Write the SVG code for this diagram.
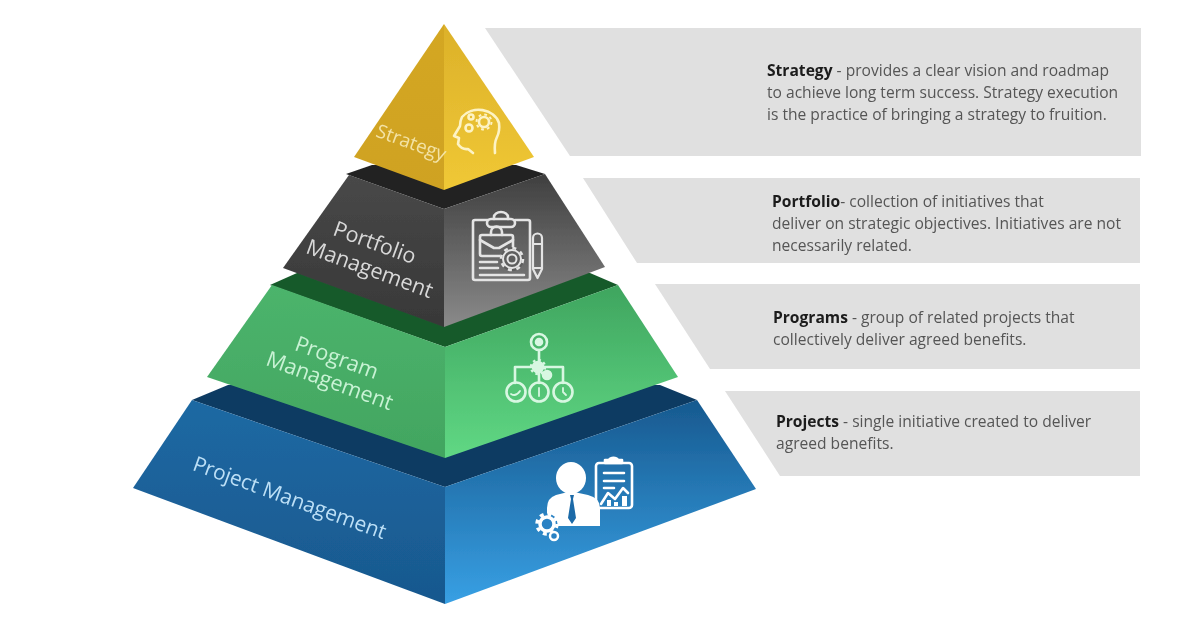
<svg xmlns="http://www.w3.org/2000/svg" width="1200" height="630" viewBox="0 0 1200 630">
<style>
.panel{fill:#e0e0e0}
.d{font-family:"Open Sans","Liberation Sans",sans-serif;font-size:15.6px;fill:#555}
.d tspan{font-weight:700;fill:#1a1a1a}
.l{font-family:"Open Sans","Liberation Sans",sans-serif;text-anchor:middle}
.i{fill:none;stroke-width:2.6;stroke-linecap:round;stroke-linejoin:round}
</style>
<defs>
<filter id="soft" x="0" y="0" width="100%" height="100%"><feGaussianBlur stdDeviation="0.45"/></filter>
<linearGradient id="gR" x1="0" y1="0" x2="0" y2="1"><stop offset="0" stop-color="#dcb12a"/><stop offset="1" stop-color="#f0c835"/></linearGradient>
<linearGradient id="gL" x1="0" y1="0" x2="0" y2="1"><stop offset="0" stop-color="#d4a720"/><stop offset="1" stop-color="#cfa224"/></linearGradient>
<linearGradient id="kR" x1="0" y1="0" x2="0" y2="1"><stop offset="0" stop-color="#3f3f3f"/><stop offset="1" stop-color="#8a8a8a"/></linearGradient>
<linearGradient id="kL" x1="0" y1="0" x2="0" y2="1"><stop offset="0" stop-color="#484848"/><stop offset="1" stop-color="#383838"/></linearGradient>
<linearGradient id="nR" x1="0" y1="0" x2="0" y2="1"><stop offset="0" stop-color="#3fa55f"/><stop offset="1" stop-color="#60d884"/></linearGradient>
<linearGradient id="nL" x1="0" y1="0" x2="0" y2="1"><stop offset="0" stop-color="#4cb46c"/><stop offset="1" stop-color="#42a560"/></linearGradient>
<linearGradient id="bR" x1="0" y1="0" x2="0" y2="1"><stop offset="0" stop-color="#17598f"/><stop offset="1" stop-color="#38a0e4"/></linearGradient>
<linearGradient id="bL" x1="0" y1="0" x2="0" y2="1"><stop offset="0" stop-color="#1e69a3"/><stop offset="1" stop-color="#18588e"/></linearGradient>
</defs>
<rect width="1200" height="630" fill="#fff"/>
<g filter="url(#soft)">
<g id="panel-strategy">
<polygon class="panel" points="485,28 1141,28 1141,156 570,156"/>
<text class="d" x="767" y="76"><tspan>Strategy</tspan> - provides a clear vision and roadmap</text>
<text class="d" x="767" y="98">to achieve long term success. Strategy execution</text>
<text class="d" x="767" y="120">is the practice of bringing a strategy to fruition.</text>
</g>
<g id="panel-portfolio">
<polygon class="panel" points="583,178 1140,178 1140,263 637,263"/>
<text class="d" x="772" y="207"><tspan>Portfolio</tspan>- collection of initiatives that</text>
<text class="d" x="772" y="229">deliver on strategic objectives. Initiatives are not</text>
<text class="d" x="772" y="251">necessarily related.</text>
</g>
<g id="panel-programs">
<polygon class="panel" points="655,284 1140,284 1140,369 710,369"/>
<text class="d" x="773" y="323"><tspan>Programs</tspan> - group of related projects that</text>
<text class="d" x="773" y="345">collectively deliver agreed benefits.</text>
</g>
<g id="panel-projects">
<polygon class="panel" points="725,391 1140,391 1140,476 780,476"/>
<text class="d" x="776" y="427"><tspan>Projects</tspan> - single initiative created to deliver</text>
<text class="d" x="776" y="449">agreed benefits.</text>
</g>

<g id="tier-project">
<polygon points="192,400 228,385 660,385 697,400 445,487" fill="#0c3a62"/>
<polygon points="192,400 445,487 445,604 133,488" fill="url(#bL)"/>
<polygon points="697,400 445,487 445,604 756,489" fill="url(#bR)"/>
<text class="l" x="290" y="505" font-size="21" fill="#bcdff6" transform="rotate(20 290 497)">Project Management</text>
<g id="icon-project">
<g class="i" stroke="#fff">
<rect x="596" y="463" width="36" height="45" rx="3"/>
<path d="M605 463v-3h4a5 4 0 0 1 9 0h4v3z" fill="#fff"/>
<path d="M604 473h20M604 481h20M604 488h10"/>
<path d="M601 504l7-11 7 6 8-11 5 5"/>
</g>
<path d="M607 506v-6h4v6zM614 506v-4h4v4zM622 506v-10h5v10z" fill="#fff"/>
<ellipse cx="571" cy="478" rx="15" ry="16" fill="#fff"/>
<path d="M547 526v-18q0-10 9-13l12-3h6l14 3q12 3 12 13v18z" fill="#fff"/>
<path d="M570 495h4l-1 4 3 19-4 6-4-6 3-19z" fill="#1c6ba8"/>
<circle cx="547" cy="524" r="10.500" fill="#2a82c4"/>
<circle cx="547" cy="524" r="7" fill="none" stroke="#fff" stroke-width="3.500"/>
<circle cx="547" cy="524" r="10" fill="none" stroke="#fff" stroke-width="3.500" stroke-dasharray="3.900 4"/>
<circle cx="554" cy="536" r="4" fill="#2a82c4" stroke="#fff" stroke-width="2.500"/>
</g>
</g>

<g id="tier-program">
<polygon points="270,285 297,273 590,273 618,285 445,347" fill="#195a2c"/>
<polygon points="272,285 445,347 445,458 207,377" fill="url(#nL)"/>
<polygon points="618,285 445,347 445,458 678,377" fill="url(#nR)"/>
<text class="l" x="337" y="365" font-size="21.500" fill="#c8f2d4" transform="rotate(20 337 357)">Program</text>
<text class="l" x="330" y="388" font-size="21.500" fill="#c8f2d4" transform="rotate(20 330 380)">Management</text>
<g id="icon-program" class="i" stroke="#d8f7e2">
<circle cx="539" cy="342" r="8"/>
<circle cx="539" cy="342" r="3" fill="#d8f7e2"/>
<path d="M539 350v11M533 367h-18v16M544 367h19v16M539 373v10"/>
<circle cx="516" cy="392" r="9.500"/><circle cx="539" cy="392" r="9.500"/><circle cx="563" cy="392" r="9.500"/>
<path d="M511 394q5 3 9-3M539 388v8M563 388v4l3 3" stroke-width="1.800"/>
<circle cx="538" cy="367" r="5" fill="#d8f7e2"/>
<circle cx="538" cy="367" r="7" stroke-width="2.400" stroke-dasharray="2.600 2.900" stroke-linecap="butt"/>
<circle cx="547" cy="375" r="4" fill="#d8f7e2"/>
</g>
</g>

<g id="tier-portfolio">
<polygon points="346,174 372,165 516,165 545,174 444,209" fill="#222"/>
<polygon points="349,175 444,209 444,327 283,268" fill="url(#kL)"/>
<polygon points="545,174 444,209 444,327 605,267" fill="url(#kR)"/>
<text class="l" x="375" y="250" font-size="21.500" fill="#d8d8d8" transform="rotate(20 375 242)">Portfolio</text>
<text class="l" x="370" y="276" font-size="21.500" fill="#d8d8d8" transform="rotate(20 370 268)">Management</text>
<g id="icon-portfolio" class="i" stroke="#e4e4e4">
<path d="M488 220h-13a2 2 0 0 0-2 2v56a2 2 0 0 0 2 2h53a2 2 0 0 0 2-2v-56a2 2 0 0 0-2-2h-13"/>
<rect x="487" y="219" width="28" height="8" rx="4"/>
<path d="M494 219v-2a7 5 0 0 1 14 0v2"/>
<rect x="480" y="235" width="33" height="21" rx="2"/>
<path d="M491 235v-3a5 5 0 0 1 11 0v3M480 240l14 8h5l14-8"/>
<circle cx="512" cy="259" r="12" fill="#5d5d5d" stroke="none"/>
<circle cx="512" cy="259" r="4.500" stroke-width="2"/>
<circle cx="512" cy="259" r="9" stroke-width="2"/>
<circle cx="512" cy="259" r="11" stroke-width="2.500" stroke-dasharray="4 4.640" stroke-linecap="butt"/>
<path d="M480 262h17M480 268h18M480 275h44"/>
<path d="M533 238a4.500 4.500 0 0 1 9 0v31l-4.500 9-4.500-9zM533 244h9M533 268h9" stroke-width="2.200"/>
</g>
</g>

<g id="tier-strategy">
<polygon points="444,24 444,190 354,157" fill="url(#gL)"/>
<polygon points="444,24 534,157 444,190" fill="url(#gR)"/>
<text class="l" x="411" y="149" font-size="19" fill="#f3e3a6" transform="rotate(20 411 143)">Strategy</text>
<g id="icon-strategy" class="i" stroke="#fdf3c4">
<path d="M495 153q-1-10 2-16q3-6 2-14a21 18 0 0 0-37-6q-2 4-2 9l-6 10 5 2-1 6q4 6 10 5l5 4"/>
<circle cx="484" cy="122" r="5"/>
<circle cx="484" cy="122" r="7.500" stroke-width="2" stroke-dasharray="2.800 3.090" stroke-linecap="butt"/>
<circle cx="469" cy="128" r="3.500"/>
<circle cx="471" cy="117" r="2.500"/>
</g>
</g>
</g>
</svg>
